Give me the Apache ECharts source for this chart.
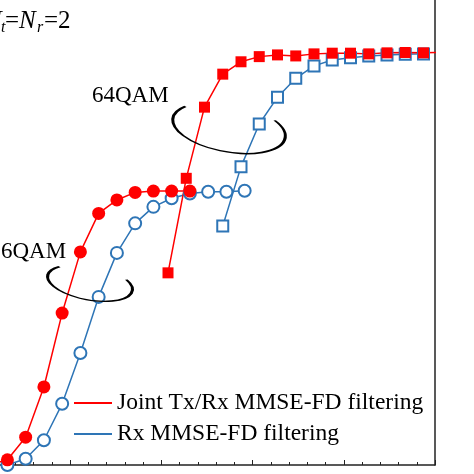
<!DOCTYPE html>
<html><head><meta charset="utf-8">
<script src="https://cdn.jsdelivr.net/npm/echarts@6/dist/echarts.min.js"></script>
<style>
html,body{margin:0;padding:0;background:#fff;overflow:hidden;width:474px;height:474px;position:relative}
#c{position:absolute;left:-40px;top:-40px;width:514px;height:514px}
</style>
</head><body><div id="c"></div>
<script>
const NAME_JOINT = 'Joint Tx/Rx MMSE-FD filtering';
const NAME_RX = 'Rx MMSE-FD filtering';

const jointQam16X = [0.57, 1.57, 2.57, 3.57, 4.57, 5.57, 6.57, 7.57, 8.57, 9.57, 10.57, 11.57];
const jointQam16Y = [0, 0.15, 0.81, 2.27, 4.42, 6.20, 7.32, 7.71, 7.93, 7.97, 7.97, 7.97];

const rxQam16X = [1.57, 2.57, 3.57, 4.57, 5.57, 6.57, 7.57, 8.57, 9.57, 10.57, 11.57, 12.57, 13.57, 14.57];
const rxQam16Y = [0, 0.18, 0.72, 1.78, 3.26, 4.89, 6.17, 7.03, 7.51, 7.76, 7.90, 7.95, 7.95, 7.98];

const jointQam64X = [10.37, 11.37, 12.37, 13.37, 14.37, 15.37, 16.37, 17.37, 18.37, 19.37, 20.37, 21.37, 22.37, 23.37, 24.37, 25.37];
const jointQam64Y = [5.59, 8.34, 10.41, 11.37, 11.73, 11.88, 11.93, 11.90, 11.96, 11.98, 11.98, 11.96, 11.99, 12.0, 11.99, 12.0];

const rxQam64X = [13.37, 14.37, 15.37, 16.37, 17.37, 18.37, 19.37, 20.37, 21.37, 22.37, 23.37, 24.37];
const rxQam64Y = [6.95, 8.68, 9.92, 10.70, 11.25, 11.61, 11.78, 11.85, 11.90, 11.93, 11.95, 11.96];

const RED = '#ff0000';
const BLUE = '#2e75b6';
const SERIF = 'Liberation Serif';
// the chart canvas is larger than the window and shifted by OFF so the plot area can start outside the view
const OFF = 40;

function pairs(xs, ys) { return xs.map((x, i) => [x, ys[i]]); }

function ellipseArc(cx, cy, a, b, tiltDeg, startDeg, endDeg) {
  return {
    type: 'group', x: cx + OFF, y: cy + OFF, rotation: -tiltDeg * Math.PI / 180, z: 100,
    children: [{
      type: 'arc', scaleY: b / a, z: 100,
      shape: { cx: 0, cy: 0, r: a, startAngle: startDeg * Math.PI / 180, endAngle: endDeg * Math.PI / 180, clockwise: true },
      style: { stroke: '#000', lineWidth: 2, fill: null, strokeNoScale: true }
    }]
  };
}
function txt(x, y, text, size, italic) {
  return { type: 'text', x: x + OFF, y: y + OFF, z: 100,
    style: { text: text, font: (italic ? 'italic ' : '') + size + 'px "' + SERIF + '"', fill: '#000', verticalAlign: 'middle', align: 'left' } };
}

const chart = echarts.init(document.getElementById('c'), null, { renderer: 'canvas' });
chart.setOption({
  animation: false,
  backgroundColor: '#fff',
  grid: { left: OFF - 21.25, right: 39, top: OFF - 16.25, bottom: 9, containLabel: false },
  xAxis: {
    type: 'value', min: 0, max: 25, interval: 5,
    axisLine: { show: true, lineStyle: { color: '#222', width: 1.5 } },
    axisTick: { show: true, inside: true, length: 5, lineStyle: { color: '#222', width: 1 } },
    minorTick: { show: true, splitNumber: 5, length: 3, lineStyle: { color: '#222', width: 1 } },
    axisLabel: { show: false }, splitLine: { show: false }
  },
  yAxis: [
    { type: 'value', min: 0, max: 14, show: false, splitLine: { show: false } },
    { type: 'value', min: 0, max: 14, position: 'right',
      axisLine: { show: true, lineStyle: { color: '#222', width: 1.5 } },
      axisTick: { show: false }, axisLabel: { show: false }, splitLine: { show: false } }
  ],
  legend: {
    orient: 'vertical', left: 74 + OFF, top: 391 + OFF, padding: 0, itemWidth: 38, itemHeight: 2, itemGap: 7,
    icon: 'rect', data: [NAME_JOINT, NAME_RX],
    textStyle: { fontFamily: SERIF, fontSize: 23.5, color: '#000' }
  },
  series: [
    { name: NAME_RX, type: 'line', data: pairs(rxQam16X, rxQam16Y), symbol: 'emptyCircle', symbolSize: 12,
      itemStyle: { color: BLUE, borderWidth: 1.5 }, lineStyle: { color: BLUE, width: 1.5 } },
    { name: NAME_RX, type: 'line', data: pairs(rxQam64X, rxQam64Y), symbol: 'emptyRect', symbolSize: 11,
      itemStyle: { color: BLUE, borderWidth: 1.5 }, lineStyle: { color: BLUE, width: 1.5 } },
    { name: NAME_JOINT, type: 'line', data: pairs(jointQam16X, jointQam16Y), symbol: 'circle', symbolSize: 13,
      itemStyle: { color: RED }, lineStyle: { color: RED, width: 1.5 } },
    { name: NAME_JOINT, type: 'line', data: pairs(jointQam64X, jointQam64Y), symbol: 'rect', symbolSize: 11,
      itemStyle: { color: RED }, lineStyle: { color: RED, width: 1.5 } }
  ],
  graphic: [
    txt(-15, 21.5, 'N', 25, true),
    txt(1, 28, 't', 16, true),
    txt(5, 21.5, '=', 25, false),
    txt(19, 21.5, 'N', 25, true),
    txt(37, 28, 'r', 16, true),
    txt(44, 21.5, '=2', 25, false),
    txt(92, 95.5, '64QAM', 23, false),
    txt(-10.5, 251.5, '16QAM', 23, false),
    ellipseArc(229, 128, 57, 24, 10, -40, 215),
    ellipseArc(90, 283, 43, 17, 10, -35, 220)
  ]
});
</script></body></html>
